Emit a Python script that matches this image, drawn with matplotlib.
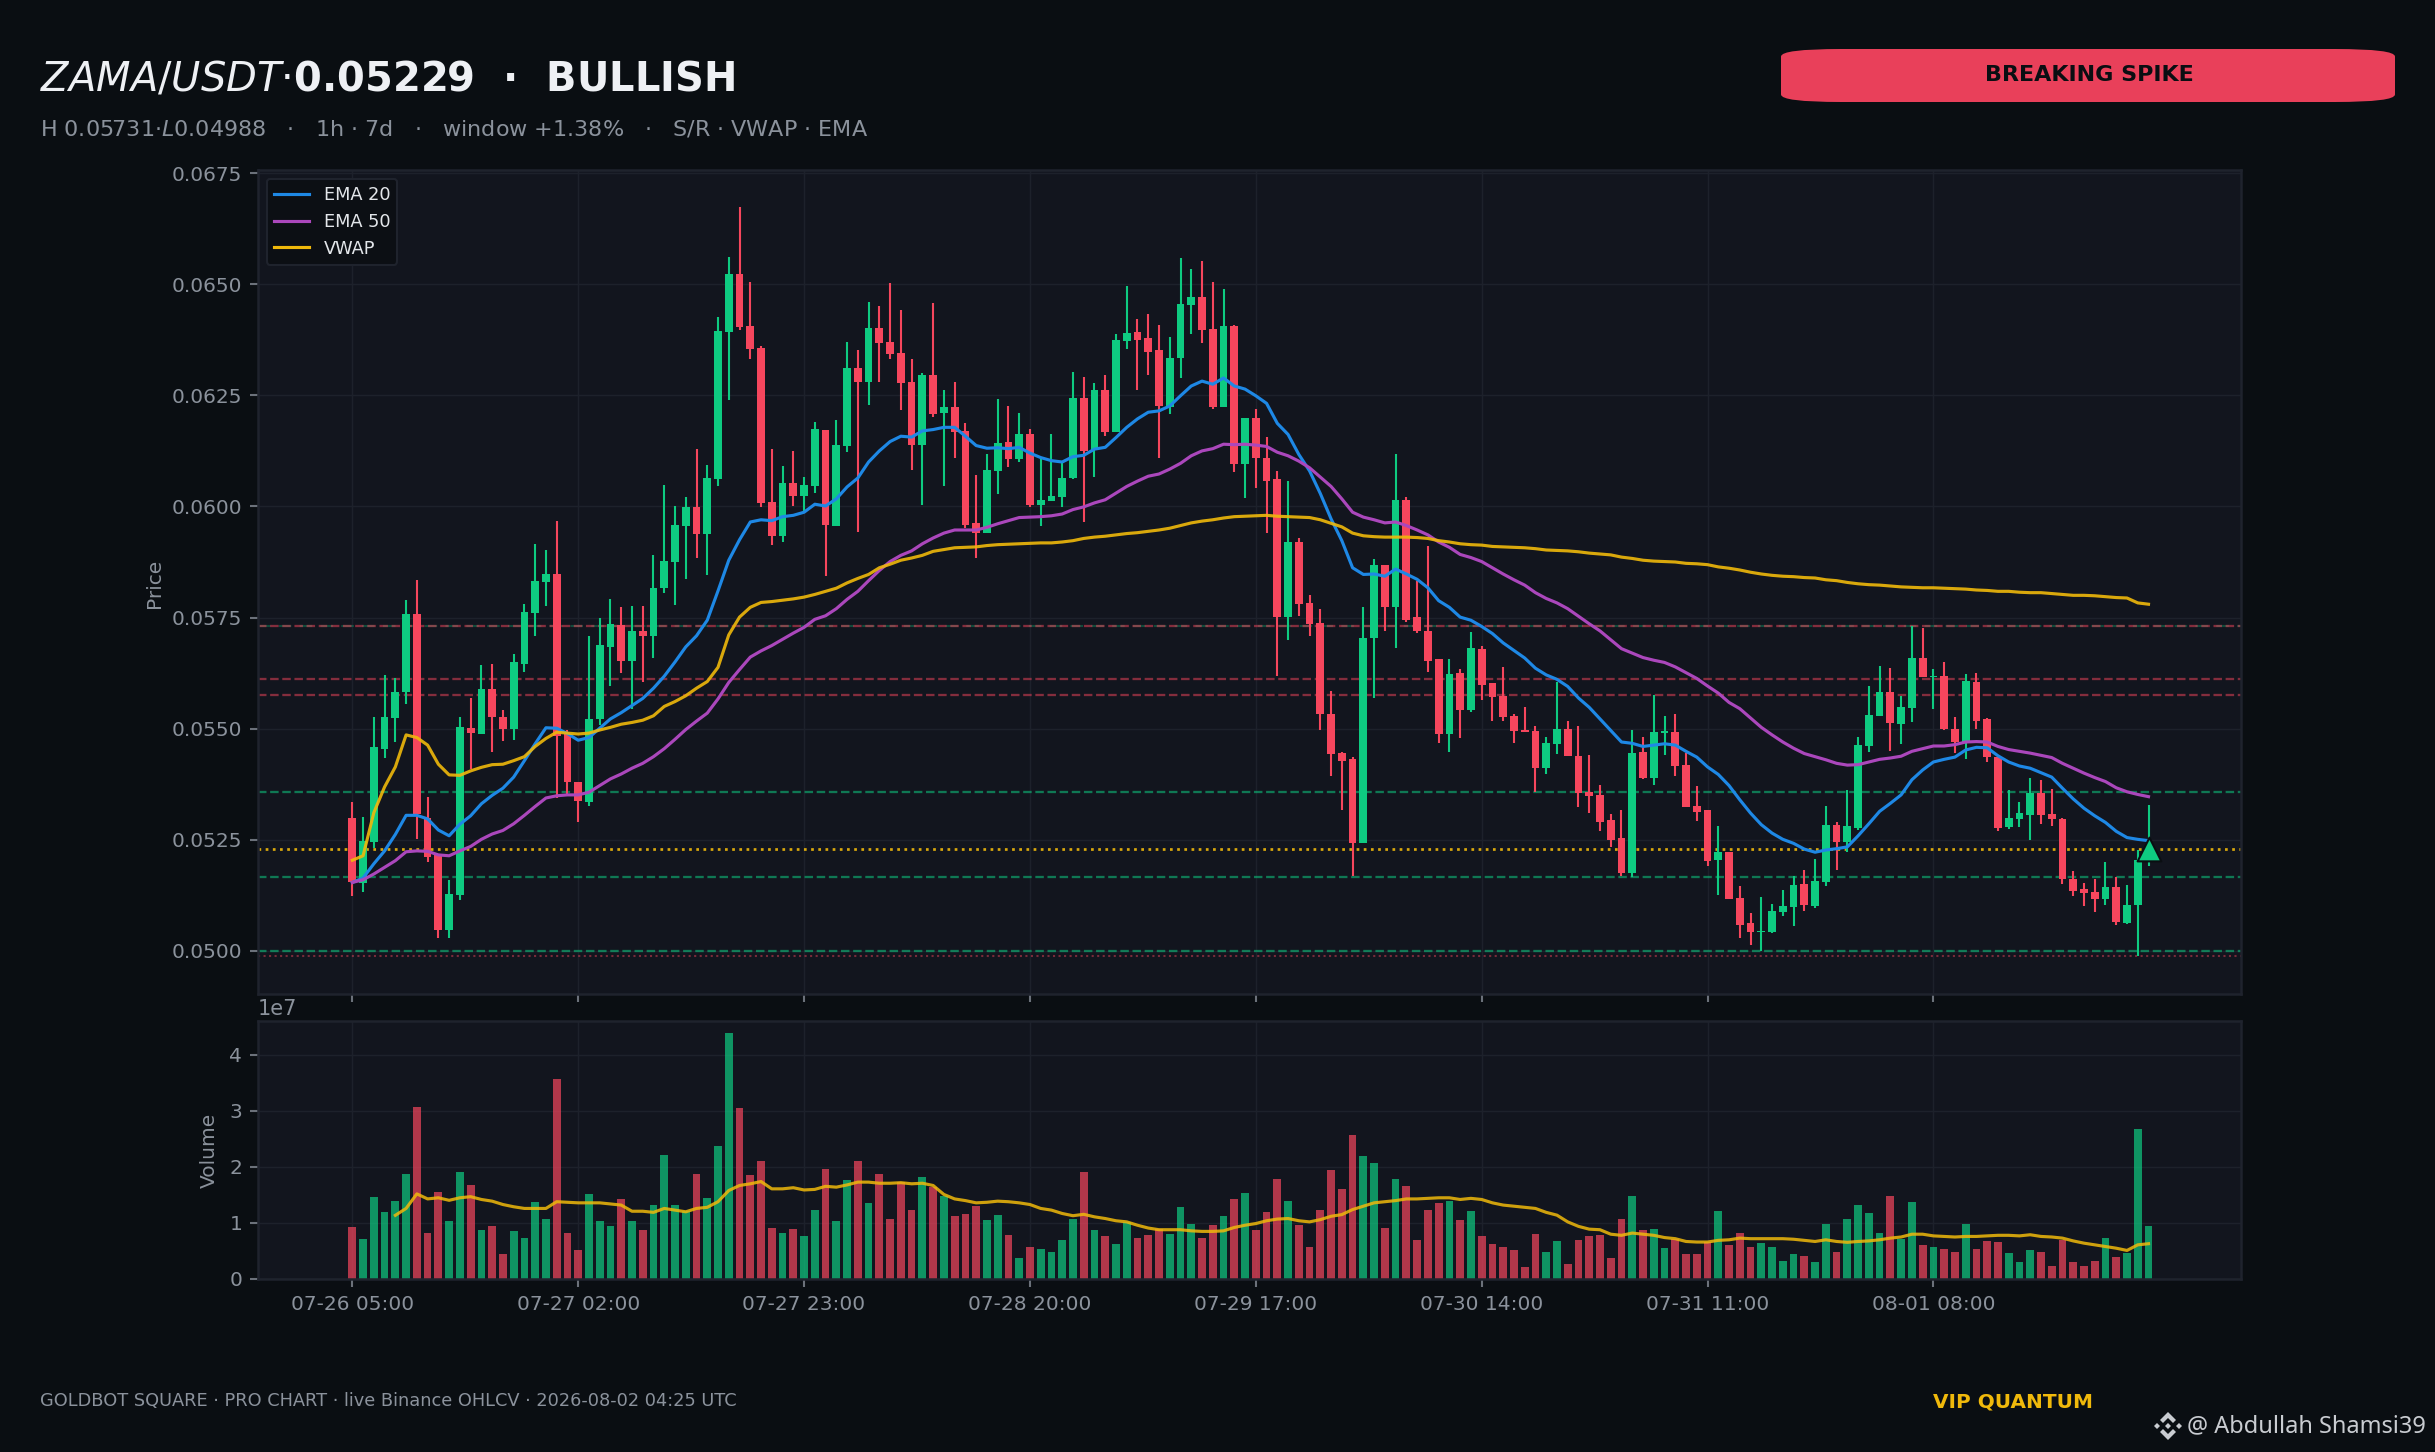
import numpy as np
import matplotlib as mpl
mpl.use('Agg')
import matplotlib.pyplot as plt
from matplotlib.patches import FancyBboxPatch, Polygon

# prices in 1e-5 USDT, one per hourly candle
opens = [5300,5152,5246,5455,5525,5583,5759,5300,5219,5047,5126,5502,5489,5590,5527,5499,5646,5761,5830,5848,
         5489,5380,5336,5522,5684,5734,5653,5720,5709,5816,5874,5956,5998,5939,6062,6393,6523,6406,6357,6010,
         5934,6052,6024,6045,6172,5956,6137,6312,6280,6402,6371,6345,6280,6139,6296,6211,6224,6170,5963,5941,
         6080,6146,6106,6162,6003,6013,6022,6064,6244,6127,6261,6168,6373,6393,6378,6352,6224,6333,6453,6472,
         6399,6223,6406,6096,6200,6110,6062,5752,5921,5783,5738,5534,5445,5431,5243,5703,5869,5773,6015,5752,
         5720,5656,5489,5626,5541,5680,5602,5574,5529,5498,5495,5412,5466,5499,5439,5358,5351,5295,5253,5176,
         5448,5389,5491,5492,5419,5326,5316,5205,5223,5119,5063,5043,5043,5088,5099,5151,5101,5155,5284,5245,
         5277,5461,5529,5583,5511,5547,5659,5617,5619,5500,5470,5605,5522,5437,5279,5297,5306,5356,5308,5297,
         5162,5140,5133,5117,5144,5063,5104,5205]
closes = [5154,5248,5459,5527,5583,5757,5308,5211,5047,5129,5504,5490,5590,5527,5499,5650,5763,5832,5848,5483,
          5379,5338,5522,5689,5736,5653,5720,5709,5817,5878,5959,5998,5939,6064,6395,6523,6404,6355,6007,5934,
          6052,6024,6049,6174,5959,6139,6312,6279,6402,6368,6343,6277,6139,6296,6209,6224,6168,5959,5941,6083,
          6143,6106,6162,6003,6015,6024,6064,6244,6125,6261,6168,6375,6391,6375,6348,6226,6335,6456,6472,6397,
          6223,6406,6096,6200,6108,6057,5752,5921,5781,5736,5532,5443,5428,5243,5703,5869,5774,6015,5745,5720,
          5653,5489,5623,5541,5682,5599,5572,5527,5495,5492,5412,5468,5499,5439,5356,5349,5290,5250,5176,5445,
          5389,5492,5495,5417,5324,5313,5203,5223,5117,5059,5043,5045,5090,5101,5149,5104,5158,5284,5245,5281,
          5464,5531,5583,5513,5549,5659,5617,5619,5500,5470,5608,5518,5437,5277,5299,5311,5356,5306,5297,5162,
          5135,5131,5117,5144,5065,5104,5205,5229]
highs = [5336,5302,5527,5621,5615,5790,5835,5346,5219,5160,5527,5569,5644,5646,5541,5669,5781,5916,5902,5968,
         5497,5380,5709,5750,5792,5773,5776,5776,5891,6049,6001,6022,6130,6094,6427,6561,6674,6505,6362,6130,
         6092,6125,6066,6190,6172,6195,6371,6352,6460,6451,6502,6441,6332,6301,6458,6261,6280,6188,6071,6118,
         6242,6226,6211,6174,6106,6162,6097,6303,6292,6278,6296,6387,6497,6422,6432,6409,6382,6558,6535,6553,
         6504,6490,6409,6200,6220,6157,6080,6057,5928,5801,5770,5585,5448,5436,5773,5881,5869,6118,6022,5832,
         5912,5656,5656,5635,5718,5687,5602,5639,5534,5548,5506,5482,5606,5518,5506,5441,5374,5307,5318,5497,
         5482,5576,5529,5532,5445,5370,5316,5281,5223,5147,5085,5122,5106,5137,5169,5182,5207,5326,5290,5362,
         5482,5596,5641,5637,5574,5731,5727,5635,5650,5527,5623,5626,5524,5437,5362,5335,5389,5385,5365,5299,
         5180,5153,5162,5200,5167,5149,5227,5329]
lows = [5123,5132,5231,5435,5471,5556,5251,5200,5030,5029,5114,5410,5489,5448,5473,5475,5628,5709,5776,5343,
        5351,5290,5325,5509,5596,5626,5544,5604,5660,5806,5778,5837,5883,5846,6047,6240,6397,6331,5998,5914,
        5921,6001,5988,6031,5843,5956,6123,5943,6228,6280,6331,6218,6083,6003,6202,6047,6110,5952,5885,5941,
        6029,6089,6101,5998,5956,6013,5999,6061,5965,6066,6159,6168,6355,6261,6296,6110,6209,6289,6387,6368,
        6220,6223,6078,6019,6042,5941,5619,5700,5754,5709,5497,5394,5316,5169,5243,5569,5720,5682,5739,5715,
        5628,5468,5448,5478,5538,5565,5518,5518,5468,5492,5358,5398,5443,5439,5323,5311,5270,5234,5169,5166,
        5387,5374,5441,5394,5324,5293,5192,5126,5117,5028,5014,5000,5041,5079,5056,5090,5097,5146,5182,5223,
        5272,5448,5529,5450,5466,5515,5617,5545,5497,5446,5432,5500,5425,5270,5275,5279,5250,5286,5281,5151,
        5124,5101,5088,5104,5059,5061,4988,5191]
ema20 = [5154,5164,5196,5225,5262,5305,5305,5297,5272,5259,5285,5304,5331,5350,5366,5391,5428,5466,5502,5501,
         5489,5474,5480,5501,5522,5536,5552,5568,5591,5618,5650,5684,5709,5744,5810,5879,5925,5965,5970,5968,
         5977,5980,5987,6005,6001,6017,6044,6064,6100,6125,6146,6158,6156,6170,6173,6178,6178,6158,6137,6131,
         6132,6130,6133,6120,6110,6103,6100,6112,6115,6129,6133,6155,6178,6197,6212,6215,6226,6249,6271,6282,
         6275,6289,6271,6264,6249,6232,6187,6162,6117,6080,6029,5972,5923,5862,5847,5848,5843,5859,5848,5836,
         5817,5788,5773,5751,5744,5730,5714,5693,5676,5659,5636,5621,5611,5595,5569,5548,5522,5496,5470,5467,
         5460,5463,5466,5463,5449,5436,5414,5397,5372,5340,5310,5284,5265,5251,5242,5229,5222,5227,5230,5234,
         5259,5286,5314,5332,5351,5385,5407,5425,5431,5436,5452,5458,5457,5439,5425,5416,5411,5401,5391,5366,
         5342,5321,5304,5289,5269,5255,5251,5248]
ema50 = [5154,5160,5173,5188,5203,5223,5225,5224,5216,5214,5225,5235,5251,5263,5271,5286,5305,5325,5344,5349,
         5351,5351,5357,5372,5387,5398,5411,5422,5437,5455,5476,5498,5517,5535,5567,5604,5633,5661,5675,5687,
         5701,5715,5728,5746,5754,5770,5791,5809,5833,5856,5876,5890,5900,5916,5929,5940,5947,5947,5947,5953,
         5961,5968,5975,5976,5977,5979,5983,5993,5999,6008,6015,6030,6045,6057,6068,6073,6084,6097,6114,6125,
         6130,6140,6139,6140,6138,6135,6122,6114,6102,6087,6066,6045,6017,5987,5976,5970,5963,5965,5957,5947,
         5936,5920,5908,5892,5885,5876,5862,5848,5835,5823,5806,5793,5783,5770,5753,5736,5720,5700,5680,5670,
         5660,5654,5649,5639,5626,5613,5596,5580,5559,5545,5524,5503,5486,5470,5456,5444,5437,5430,5422,5418,
         5419,5425,5431,5434,5438,5449,5455,5461,5461,5464,5470,5471,5470,5460,5453,5449,5445,5440,5435,5422,
         5411,5400,5390,5381,5367,5358,5352,5347]
vwap = [5204,5214,5311,5369,5414,5486,5480,5463,5420,5396,5395,5405,5413,5419,5420,5428,5437,5460,5478,5492,
        5490,5488,5490,5497,5503,5510,5514,5519,5529,5550,5561,5574,5591,5606,5638,5711,5751,5773,5784,5786,
        5789,5792,5796,5802,5809,5816,5828,5838,5847,5862,5870,5879,5884,5890,5899,5903,5907,5908,5909,5912,
        5914,5915,5916,5917,5918,5918,5920,5923,5928,5931,5933,5936,5939,5941,5944,5947,5951,5957,5963,5967,
        5970,5974,5977,5978,5979,5980,5978,5977,5976,5975,5970,5962,5954,5940,5934,5932,5931,5931,5931,5930,
        5928,5923,5920,5916,5914,5913,5910,5909,5908,5907,5905,5902,5901,5900,5898,5895,5893,5891,5886,5883,
        5879,5877,5876,5875,5872,5871,5869,5864,5861,5857,5852,5848,5845,5843,5842,5840,5839,5835,5833,5829,
        5826,5824,5823,5821,5819,5818,5817,5817,5816,5815,5814,5812,5811,5809,5809,5807,5806,5806,5804,5802,
        5800,5800,5799,5797,5795,5794,5783,5780]
# volume in millions
volume = [9.2,7.1,14.6,11.9,13.9,18.7,30.8,8.3,15.5,10.3,19.05,16.7,8.7,9.4,4.4,8.5,7.4,13.7,10.7,35.8,
          8.2,5.1,15.1,10.3,9.4,14.2,10.3,8.7,13.2,22.1,13.2,12.1,18.7,14.4,23.7,43.9,30.5,18.5,21.0,9.05,
          8.2,8.9,7.6,12.4,19.6,10.3,17.6,21.0,13.5,18.7,10.7,17.3,12.3,18.3,16.4,14.8,11.2,11.55,13.0,10.5,
          11.4,7.8,3.7,5.8,5.3,4.8,6.9,10.8,19.05,8.7,7.6,6.2,10.1,7.4,7.8,8.9,8.0,12.8,9.9,7.3,
          9.6,11.2,14.2,15.3,8.7,11.9,17.8,13.9,9.6,5.8,12.3,19.4,16.0,25.7,21.9,20.8,9.05,17.8,16.55,6.9,
          12.4,13.5,13.9,10.5,12.1,7.6,6.2,5.7,5.1,2.1,8.0,4.9,6.7,2.6,6.9,7.6,7.8,3.7,10.7,14.8,
          8.7,8.9,5.5,7.1,4.4,4.4,6.55,12.1,6.0,8.3,5.8,6.4,5.7,3.3,4.4,4.05,3.0,9.8,4.9,10.7,
          13.2,11.7,8.2,14.9,7.1,13.7,6.0,5.7,5.3,4.8,9.9,5.3,6.7,6.55,4.6,3.0,5.1,4.8,2.4,6.9,
          3.0,2.4,3.3,7.3,3.9,4.6,26.7,9.4]
# volume average, first value belongs to candle 4
vol_ma = [11.37,12.6,15.2,14.3,14.5,14.05,14.5,14.7,14.2,13.9,13.3,12.9,12.6,12.6,12.6,13.8,13.7,13.6,13.6,13.6,
          13.4,13.2,12.1,12.1,11.9,12.6,12.3,12.0,12.6,12.8,13.8,15.8,16.7,17.0,17.4,16.1,16.1,16.3,15.9,16.0,
          16.55,16.4,16.8,17.3,17.3,17.1,17.1,17.2,17.0,17.1,16.7,15.1,14.3,14.0,13.6,13.7,13.9,13.8,13.6,13.3,
          12.6,12.3,11.7,11.3,11.55,11.1,10.8,10.4,10.2,9.6,9.1,8.8,8.8,8.8,8.6,8.5,8.5,8.6,9.2,9.6,
          9.9,10.4,10.7,10.8,10.4,10.2,10.6,11.2,11.5,12.4,13.0,13.6,13.8,14.0,14.3,14.3,14.4,14.5,14.5,14.2,
          14.4,14.2,13.6,13.2,13.0,12.8,12.6,11.9,11.4,10.2,9.4,8.9,8.8,8.0,7.8,8.2,8.0,7.8,7.4,7.2,
          6.7,6.6,6.6,6.9,7.0,7.3,7.2,7.2,7.2,7.2,7.1,6.9,6.7,7.0,6.7,6.55,6.7,6.8,7.0,7.3,
          7.5,8.0,8.0,7.7,7.6,7.5,7.6,7.6,7.7,7.8,7.8,7.7,7.9,7.6,7.5,7.3,6.8,6.4,6.1,5.8,
          5.5,5.1,6.1,6.3]
resistance = [0.05731, 0.05612, 0.05576]
support = [0.05358, 0.05166, 0.05000]
last_price = 0.05229
range_high = 0.05731
range_low = 0.04988
tick_idx = [0, 21, 42, 63, 84, 105, 126, 147]
tick_labels = ['07-26 05:00', '07-27 02:00', '07-27 23:00', '07-28 20:00', '07-29 17:00', '07-30 14:00',
               '07-31 11:00', '08-01 08:00']

BG = '#0a0e12'
PANEL = '#12151e'
GRID = '#1d212b'
EDGE = '#1f232d'
MUTED = '#8b929c'
GREEN = '#0ecb81'
RED = '#f6465d'
AMBER = '#f0b90b'
W, H = 2435, 1452

to_price = lambda a: np.array(a) / 1e5
o, c, hi, lo = to_price(opens), to_price(closes), to_price(highs), to_price(lows)
x = np.arange(len(o))
cols = [GREEN if b >= a else RED for a, b in zip(o, c)]

fig = plt.figure(figsize=(W / 150, H / 150), dpi=150, facecolor=BG)
ax = fig.add_axes([258 / W, 1 - 994 / H, (2241 - 258) / W, (994 - 170) / H], facecolor=PANEL)
axv = fig.add_axes([258 / W, 1 - 1279 / H, (2241 - 258) / W, (1279 - 1021) / H], facecolor=PANEL, sharex=ax)

ax.axhline(range_high, color=GREEN, lw=1, ls=(0, (6, 4)), alpha=0.3, zorder=1)
for line in resistance:
    ax.axhline(line, color=RED, lw=1.1, ls='--', alpha=0.5, zorder=1)
for line in support:
    ax.axhline(line, color=GREEN, lw=1.1, ls='--', alpha=0.55, zorder=1)
ax.axhline(range_low, color=RED, lw=1, ls=':', alpha=0.45, zorder=1)
ax.axhline(last_price, color=AMBER, lw=1.3, ls=':', alpha=0.9, zorder=1)

ax.vlines(x, lo, hi, colors=cols, lw=1, zorder=3)
ax.bar(x, np.maximum(np.abs(c - o), 0.00002), bottom=np.minimum(o, c), width=0.72, color=cols, lw=0, zorder=3)

ax.plot(x, to_price(ema20), color='#1e88e5', lw=1.5, label='EMA 20', zorder=4)
ax.plot(x, to_price(ema50), color='#ab47bc', lw=1.5, label='EMA 50', zorder=4)
ax.plot(x, to_price(vwap), color=AMBER, lw=1.5, alpha=0.9, label='VWAP', zorder=4)
ax.scatter([x[-1]], [last_price], marker='^', s=130, color=GREEN, edgecolors=BG, linewidths=1, zorder=5)

axv.bar(x, np.array(volume) * 1e6, width=0.72, color=cols, alpha=0.7, lw=0, zorder=2)
axv.plot(x[4:], np.array(vol_ma) * 1e6, color=AMBER, lw=1.5, alpha=0.85, zorder=3)

ax.set_xlim(-8.77, 175.6)
ax.set_ylim(0.04903, 0.06757)
axv.set_ylim(0, 46.07e6)
ax.set_yticks([0.05, 0.0525, 0.055, 0.0575, 0.06, 0.0625, 0.065, 0.0675])
ax.yaxis.set_major_formatter(mpl.ticker.FormatStrFormatter('%.4f'))
axv.set_yticks([0, 1e7, 2e7, 3e7, 4e7])
axv.set_xticks(tick_idx)
axv.set_xticklabels(tick_labels)
ax.tick_params(labelbottom=False)

for a in (ax, axv):
    a.grid(True, color=GRID, lw=0.7, zorder=0)
    a.set_axisbelow(True)
    a.tick_params(colors=MUTED, labelsize=9.65, length=4, width=1, color='#6b717a')
    for s in a.spines.values():
        s.set_color(EDGE)
        s.set_linewidth(1.2)
axv.yaxis.get_offset_text().set_color(MUTED)
axv.yaxis.get_offset_text().set_fontsize(10)

fig.text(154 / W, 1 - 583 / H, 'Price', color=MUTED, fontsize=9.65, rotation=90, ha='center', va='center')
fig.text(209 / W, 1 - 1150 / H, 'Volume', color=MUTED, fontsize=9.65, rotation=90, ha='center', va='center')

leg = ax.legend(loc='upper left', fontsize=8.5, facecolor='#0c0f14', edgecolor=EDGE, framealpha=1,
                borderaxespad=0.5, labelcolor='#e3e6ea')
for h in leg.get_lines():
    h.set_alpha(1)

# header
fig.text(40 / W, 1 - 80 / H, '$ZAMA/USDT · $0.05229  ·  BULLISH', color='#eef0f4', fontsize=19.2,
         fontweight='bold', va='center')
fig.text(40 / W, 1 - 129 / H, 'H $0.05731 · L$0.04988   ·   1h · 7d   ·   window +1.38%   ·   S/R · VWAP · EMA',
         color=MUTED, fontsize=10.7, va='center')
badge = FancyBboxPatch((1781 / W, 1 - 102 / H), 614 / W, 53 / H, transform=fig.transFigure,
                       boxstyle='round,pad=0,rounding_size=0.0246', mutation_aspect=0.21,
                       facecolor='#e9405a', edgecolor='none')
fig.add_artist(badge)
fig.text(2089 / W, 1 - 75 / H, 'BREAKING SPIKE', color=BG, fontsize=10.7, fontweight='bold', ha='center', va='center')

# footer
fig.text(40 / W, 1 - 1401 / H, 'GOLDBOT SQUARE · PRO CHART · live Binance OHLCV · 2026-08-02 04:25 UTC',
         color=MUTED, fontsize=8.55, va='center')
fig.text(2093 / W, 1 - 1402 / H, 'VIP QUANTUM', color=AMBER, fontsize=9.6, fontweight='bold', ha='right', va='center')
fig.text(2187 / W, 1 - 1426 / H, '@ Abdullah Shamsi39', color='#c9ccd1', fontsize=11.3, family='Noto Sans', va='center')

# little exchange logo next to the watermark, pixel offsets from its centre
cx, cy = 2168, 1426
logo = [[(-3, 0), (0, -3), (3, 0), (0, 3)],
        [(-14, 0), (-11, -3), (-8, 0), (-11, 3)],
        [(14, 0), (11, -3), (8, 0), (11, 3)],
        [(0, -14), (8, -6), (5, -3), (0, -8), (-5, -3), (-8, -6)],
        [(0, 14), (8, 6), (5, 3), (0, 8), (-5, 3), (-8, 6)]]
for pts in logo:
    fig.add_artist(Polygon([((cx + a) / W, 1 - (cy + b) / H) for a, b in pts], closed=True,
                           transform=fig.transFigure, facecolor='#c9ccd1', edgecolor='none'))

fig.savefig('out.png', facecolor=BG)
